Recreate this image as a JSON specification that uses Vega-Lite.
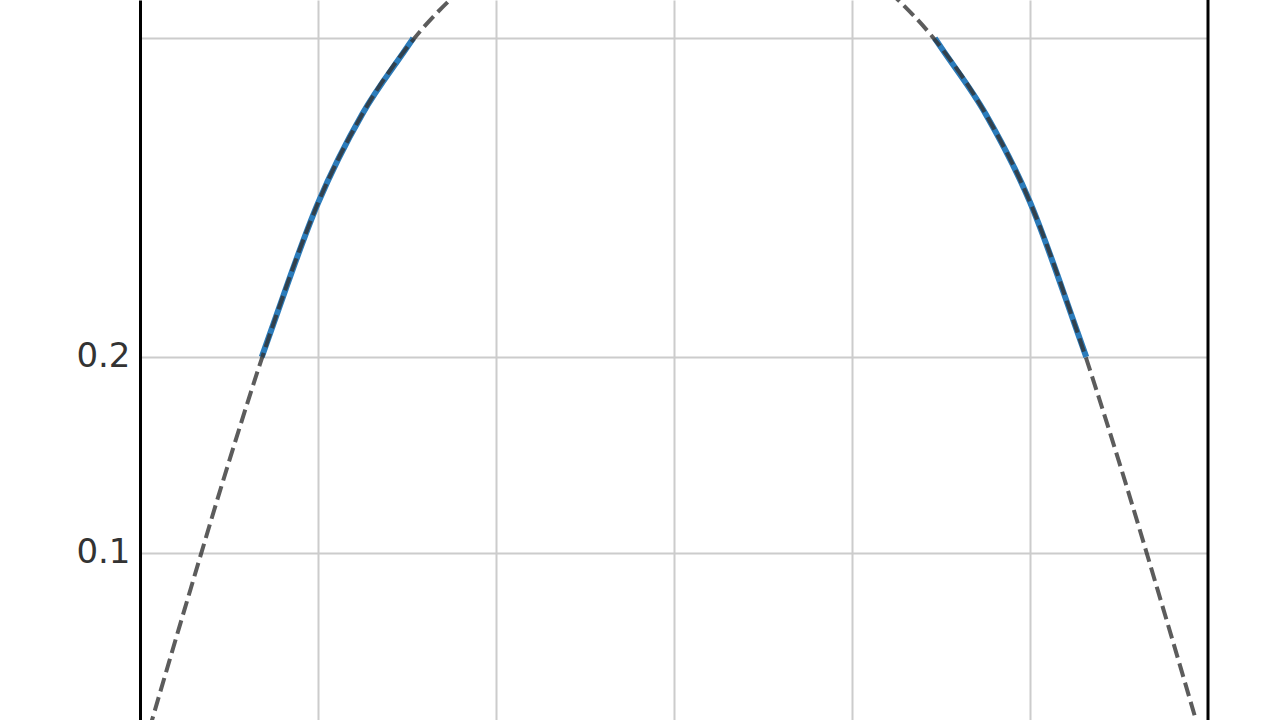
{
  "$schema": "https://vega.github.io/schema/vega-lite/v6.json",
  "width": 1068,
  "height": 720,
  "autosize": {"type": "none"},
  "padding": {"left": 140, "right": 72, "top": 0, "bottom": 0},
  "background": "white",
  "config": {
    "view": {"stroke": null},
    "axis": {
      "gridColor": "#cccccc",
      "gridWidth": 2,
      "labelFont": "DejaVu Sans",
      "labelFontSize": 34,
      "labelColor": "#333333"
    }
  },
  "datasets": {
    "curve": [
      {"x": 0.02, "y": 0.0},
      {"x": 0.25, "y": 0.0711},
      {"x": 0.5, "y": 0.1466},
      {"x": 0.75, "y": 0.217},
      {"x": 1.0, "y": 0.2785},
      {"x": 1.25, "y": 0.3241},
      {"x": 1.5, "y": 0.3579},
      {"x": 1.75, "y": 0.3829},
      {"x": 2.0, "y": 0.401},
      {"x": 2.25, "y": 0.4135},
      {"x": 2.5, "y": 0.4216},
      {"x": 2.75, "y": 0.4262},
      {"x": 3.0, "y": 0.4277},
      {"x": 3.25, "y": 0.4262},
      {"x": 3.5, "y": 0.4216},
      {"x": 3.75, "y": 0.4135},
      {"x": 4.0, "y": 0.401},
      {"x": 4.25, "y": 0.3829},
      {"x": 4.5, "y": 0.3579},
      {"x": 4.75, "y": 0.3241},
      {"x": 5.0, "y": 0.279},
      {"x": 5.25, "y": 0.217},
      {"x": 5.5, "y": 0.1466},
      {"x": 5.75, "y": 0.0711},
      {"x": 5.98, "y": 0.0}
    ],
    "fit": [
      {"part": "left", "x": 0.684, "y": 0.2},
      {"part": "left", "x": 0.75, "y": 0.217},
      {"part": "left", "x": 1.0, "y": 0.2785},
      {"part": "left", "x": 1.25, "y": 0.3241},
      {"part": "left", "x": 1.5, "y": 0.3579},
      {"part": "left", "x": 1.535, "y": 0.3626},
      {"part": "right", "x": 4.465, "y": 0.3626},
      {"part": "right", "x": 4.5, "y": 0.3579},
      {"part": "right", "x": 4.75, "y": 0.3241},
      {"part": "right", "x": 5.0, "y": 0.279},
      {"part": "right", "x": 5.25, "y": 0.217},
      {"part": "right", "x": 5.316, "y": 0.2}
    ],
    "border": [{"x": 6}]
  },
  "encoding": {
    "x": {
      "field": "x",
      "type": "quantitative",
      "title": null,
      "scale": {"domain": [0, 6], "nice": false, "zero": false},
      "axis": {
        "values": [1, 2, 3, 4, 5],
        "grid": true,
        "labels": false,
        "ticks": false,
        "domain": false
      }
    }
  },
  "layer": [
    {
      "data": {"name": "fit"},
      "mark": {"type": "line", "color": "#2b7bba", "strokeWidth": 6, "interpolate": "monotone", "clip": true},
      "encoding": {
        "y": {
          "field": "y",
          "type": "quantitative",
          "title": null,
          "scale": {"domain": [0.0148, 0.3821], "nice": false, "zero": false},
          "axis": {
            "values": [0.1, 0.2, 0.3626],
            "format": ".1f",
            "labelExpr": "datum.value < 0.3 ? datum.label : ''",
            "grid": true,
            "ticks": false,
            "labelPadding": 10,
            "domainColor": "black",
            "domainWidth": 3
          }
        },
        "detail": {"field": "part"}
      }
    },
    {
      "data": {"name": "curve"},
      "mark": {"type": "line", "color": "#333333", "opacity": 0.8, "strokeWidth": 4, "strokeDash": [14, 6], "interpolate": "monotone", "clip": true},
      "encoding": {
        "y": {"field": "y", "type": "quantitative"}
      }
    },
    {
      "data": {"name": "border"},
      "mark": {"type": "rule", "color": "black", "strokeWidth": 3},
      "encoding": {}
    }
  ]
}
